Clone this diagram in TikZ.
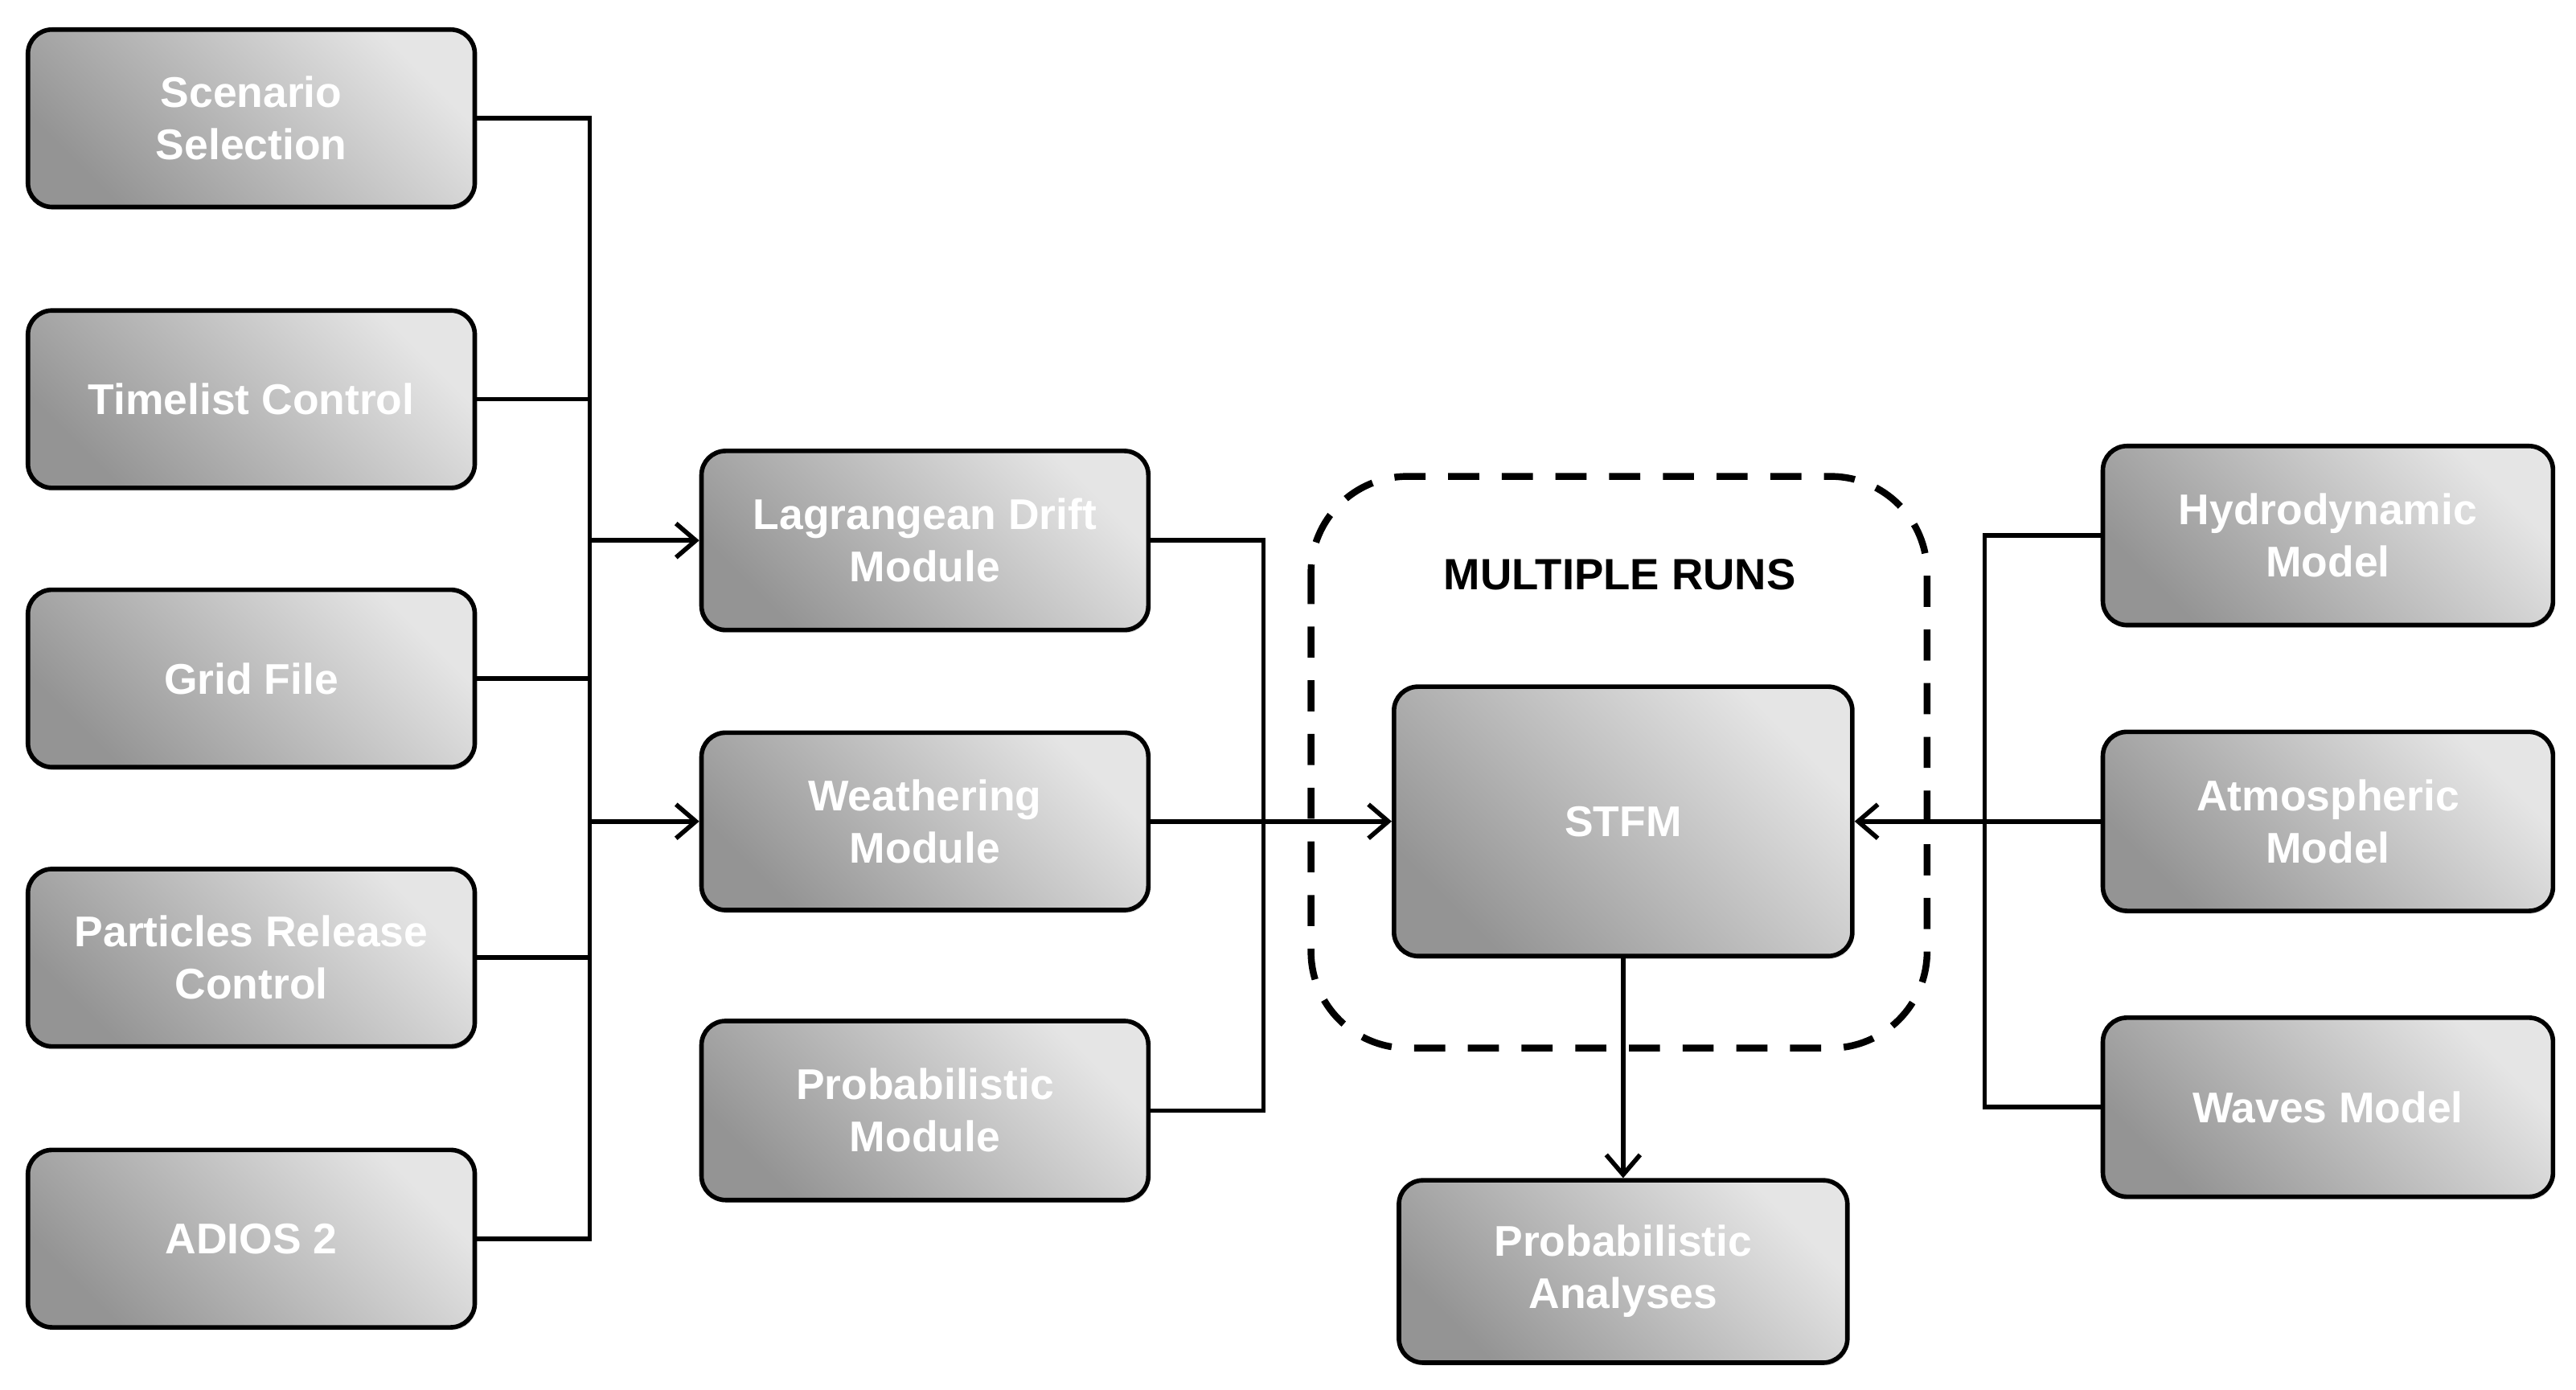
\documentclass[tikz,border=0pt]{standalone}
\usepackage{fontspec}
\setmainfont{Liberation Sans}
\usetikzlibrary{arrows.meta,shadows}
\begin{document}
\begin{tikzpicture}[x=0.020434cm,y=-0.020434cm,
  box/.style={draw=black,line width=1.6pt,rounded corners=0.3cm,
    left color=black!42,right color=black!10,shading angle=135,
    text=white,font=\bfseries\fontsize{15.2}{18.5}\selectfont,align=center,
    drop shadow={shadow xshift=0.5pt,shadow yshift=-1pt,opacity=0.3}},
  conn/.style={line width=1.6pt},
  arr/.style={conn,-{Straight Barb[length=7pt,width=12pt]}}]
\useasboundingbox (0,0) rectangle (1568,846);
\newcommand{\bx}[6]{\node[box,minimum width=#4*0.020434cm,minimum height=#5*0.020434cm] (#1) at (#2,#3) {#6};}
\bx{ss}{153}{72}{272}{108}{Scenario\\Selection}
\bx{tc}{153}{243}{272}{108}{Timelist Control}
\bx{gf}{153}{413}{272}{108}{Grid File}
\bx{pr}{153}{583}{272}{108}{Particles Release\\Control}
\bx{ad}{153}{754}{272}{108}{ADIOS 2}
\bx{ld}{563}{329}{272}{109}{Lagrangean Drift\\Module}
\bx{wm}{563}{500}{272}{108}{Weathering\\Module}
\bx{pm}{563}{676}{272}{109}{Probabilistic\\Module}
\bx{st}{988}{500}{279}{164}{STFM}
\bx{pa}{988}{774}{273}{111}{Probabilistic\\Analyses}
\bx{hm}{1417}{326}{274}{109}{Hydrodynamic\\Model}
\bx{am}{1417}{500}{274}{109}{Atmospheric\\Model}
\bx{wv}{1417}{674}{274}{109}{Waves Model}
\draw[line width=2.4pt,dash pattern=on 11pt off 8pt,rounded corners=1.2cm] (798,290) rectangle (1173,638);
\node[font=\bfseries\fontsize{15.5}{18}\selectfont] (mr) at (986,350) {MULTIPLE RUNS};
% left bus
\coordinate (b1) at (359,72); \coordinate (b5) at (359,754);
\draw[conn] (ss.east) -- (b1) -- (b5) -- (ad.east);
\draw[conn] (tc.east) -- (359,243);
\draw[conn] (gf.east) -- (359,413);
\draw[conn] (pr.east) -- (359,583);
\draw[arr] (359,329) -- (ld.west);
\draw[arr] (359,500) -- (wm.west);
% middle bus
\draw[conn] (ld.east) -- (769,329) -- (769,676) -- (pm.east);
\draw[arr] (wm.east) -- (st.west);
% right bus
\draw[conn] (hm.west) -- (1208,326) -- (1208,674) -- (wv.west);
\draw[arr] (am.west) -- (st.east);
\draw[arr] (st.south) -- (pa.north);
\end{tikzpicture}
\end{document}
